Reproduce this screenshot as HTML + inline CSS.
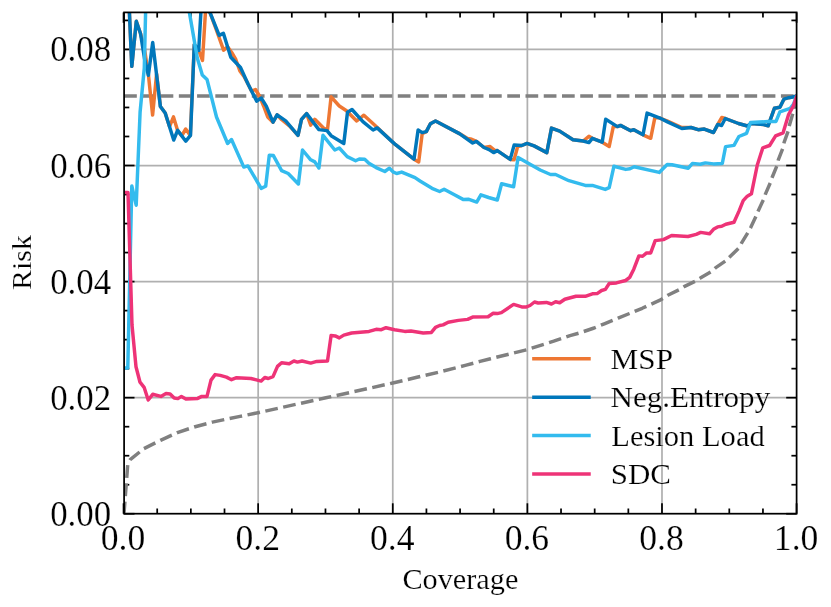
<!DOCTYPE html>
<html lang="en"><head><meta charset="utf-8"><title>Risk-Coverage</title>
<style>html,body{margin:0;padding:0;background:#fff}svg{display:block}text{font-family:"Liberation Serif","DejaVu Serif",serif;fill:#000;stroke:#fff;stroke-width:0.2px;paint-order:fill stroke}</style>
</head><body>
<svg width="831" height="607" viewBox="0 0 831 607">
<rect width="831" height="607" fill="#fff"/>
<defs><clipPath id="ax"><rect x="124.1" y="12.4" width="672.5" height="501.30000000000007"/></clipPath></defs>
<g stroke="#b0b0b0" stroke-width="1.74" fill="none">
<line x1="258.16" y1="12.4" x2="258.16" y2="513.7"/>
<line x1="392.77" y1="12.4" x2="392.77" y2="513.7"/>
<line x1="527.38" y1="12.4" x2="527.38" y2="513.7"/>
<line x1="661.99" y1="12.4" x2="661.99" y2="513.7"/>
<line x1="124.1" y1="397.67" x2="796.6" y2="397.67"/>
<line x1="124.1" y1="281.59" x2="796.6" y2="281.59"/>
<line x1="124.1" y1="165.51" x2="796.6" y2="165.51"/>
<line x1="124.1" y1="49.43" x2="796.6" y2="49.43"/>
</g>
<g stroke="#000" stroke-width="1.74" fill="none">
<line x1="123.55" y1="513.7" x2="123.55" y2="503.30"/>
<line x1="123.55" y1="12.4" x2="123.55" y2="22.80"/>
<line x1="157.20" y1="513.7" x2="157.20" y2="508.50"/>
<line x1="157.20" y1="12.4" x2="157.20" y2="17.60"/>
<line x1="190.85" y1="513.7" x2="190.85" y2="508.50"/>
<line x1="190.85" y1="12.4" x2="190.85" y2="17.60"/>
<line x1="224.51" y1="513.7" x2="224.51" y2="508.50"/>
<line x1="224.51" y1="12.4" x2="224.51" y2="17.60"/>
<line x1="258.16" y1="513.7" x2="258.16" y2="503.30"/>
<line x1="258.16" y1="12.4" x2="258.16" y2="22.80"/>
<line x1="291.81" y1="513.7" x2="291.81" y2="508.50"/>
<line x1="291.81" y1="12.4" x2="291.81" y2="17.60"/>
<line x1="325.47" y1="513.7" x2="325.47" y2="508.50"/>
<line x1="325.47" y1="12.4" x2="325.47" y2="17.60"/>
<line x1="359.12" y1="513.7" x2="359.12" y2="508.50"/>
<line x1="359.12" y1="12.4" x2="359.12" y2="17.60"/>
<line x1="392.77" y1="513.7" x2="392.77" y2="503.30"/>
<line x1="392.77" y1="12.4" x2="392.77" y2="22.80"/>
<line x1="426.42" y1="513.7" x2="426.42" y2="508.50"/>
<line x1="426.42" y1="12.4" x2="426.42" y2="17.60"/>
<line x1="460.07" y1="513.7" x2="460.07" y2="508.50"/>
<line x1="460.07" y1="12.4" x2="460.07" y2="17.60"/>
<line x1="493.73" y1="513.7" x2="493.73" y2="508.50"/>
<line x1="493.73" y1="12.4" x2="493.73" y2="17.60"/>
<line x1="527.38" y1="513.7" x2="527.38" y2="503.30"/>
<line x1="527.38" y1="12.4" x2="527.38" y2="22.80"/>
<line x1="561.03" y1="513.7" x2="561.03" y2="508.50"/>
<line x1="561.03" y1="12.4" x2="561.03" y2="17.60"/>
<line x1="594.68" y1="513.7" x2="594.68" y2="508.50"/>
<line x1="594.68" y1="12.4" x2="594.68" y2="17.60"/>
<line x1="628.34" y1="513.7" x2="628.34" y2="508.50"/>
<line x1="628.34" y1="12.4" x2="628.34" y2="17.60"/>
<line x1="661.99" y1="513.7" x2="661.99" y2="503.30"/>
<line x1="661.99" y1="12.4" x2="661.99" y2="22.80"/>
<line x1="695.64" y1="513.7" x2="695.64" y2="508.50"/>
<line x1="695.64" y1="12.4" x2="695.64" y2="17.60"/>
<line x1="729.29" y1="513.7" x2="729.29" y2="508.50"/>
<line x1="729.29" y1="12.4" x2="729.29" y2="17.60"/>
<line x1="762.95" y1="513.7" x2="762.95" y2="508.50"/>
<line x1="762.95" y1="12.4" x2="762.95" y2="17.60"/>
<line x1="796.60" y1="513.7" x2="796.60" y2="503.30"/>
<line x1="796.60" y1="12.4" x2="796.60" y2="22.80"/>
<line x1="124.1" y1="513.75" x2="134.50" y2="513.75"/>
<line x1="796.6" y1="513.75" x2="786.20" y2="513.75"/>
<line x1="124.1" y1="484.73" x2="129.30" y2="484.73"/>
<line x1="796.6" y1="484.73" x2="791.40" y2="484.73"/>
<line x1="124.1" y1="455.71" x2="129.30" y2="455.71"/>
<line x1="796.6" y1="455.71" x2="791.40" y2="455.71"/>
<line x1="124.1" y1="426.69" x2="129.30" y2="426.69"/>
<line x1="796.6" y1="426.69" x2="791.40" y2="426.69"/>
<line x1="124.1" y1="397.67" x2="134.50" y2="397.67"/>
<line x1="796.6" y1="397.67" x2="786.20" y2="397.67"/>
<line x1="124.1" y1="368.65" x2="129.30" y2="368.65"/>
<line x1="796.6" y1="368.65" x2="791.40" y2="368.65"/>
<line x1="124.1" y1="339.63" x2="129.30" y2="339.63"/>
<line x1="796.6" y1="339.63" x2="791.40" y2="339.63"/>
<line x1="124.1" y1="310.61" x2="129.30" y2="310.61"/>
<line x1="796.6" y1="310.61" x2="791.40" y2="310.61"/>
<line x1="124.1" y1="281.59" x2="134.50" y2="281.59"/>
<line x1="796.6" y1="281.59" x2="786.20" y2="281.59"/>
<line x1="124.1" y1="252.57" x2="129.30" y2="252.57"/>
<line x1="796.6" y1="252.57" x2="791.40" y2="252.57"/>
<line x1="124.1" y1="223.55" x2="129.30" y2="223.55"/>
<line x1="796.6" y1="223.55" x2="791.40" y2="223.55"/>
<line x1="124.1" y1="194.53" x2="129.30" y2="194.53"/>
<line x1="796.6" y1="194.53" x2="791.40" y2="194.53"/>
<line x1="124.1" y1="165.51" x2="134.50" y2="165.51"/>
<line x1="796.6" y1="165.51" x2="786.20" y2="165.51"/>
<line x1="124.1" y1="136.49" x2="129.30" y2="136.49"/>
<line x1="796.6" y1="136.49" x2="791.40" y2="136.49"/>
<line x1="124.1" y1="107.47" x2="129.30" y2="107.47"/>
<line x1="796.6" y1="107.47" x2="791.40" y2="107.47"/>
<line x1="124.1" y1="78.45" x2="129.30" y2="78.45"/>
<line x1="796.6" y1="78.45" x2="791.40" y2="78.45"/>
<line x1="124.1" y1="49.43" x2="134.50" y2="49.43"/>
<line x1="796.6" y1="49.43" x2="786.20" y2="49.43"/>
<line x1="124.1" y1="20.41" x2="129.30" y2="20.41"/>
<line x1="796.6" y1="20.41" x2="791.40" y2="20.41"/>
</g>
<g clip-path="url(#ax)" fill="none" stroke-width="3.47" stroke-linejoin="round">
<line x1="124.1" y1="95.9" x2="796.6" y2="95.9" stroke="#808080" stroke-dasharray="12.73 5.515"/>
<polyline points="124.0,513.5 127.8,463.9 130.2,459.7 143.7,448.7 160.5,440.3 177.4,432.6 194.2,427.0 212.4,422.1 227.9,418.9 240.0,416.4 258.1,412.7 283.4,407.1 301.2,403.2 325.9,397.8 360.0,390.3 392.8,383.0 416.9,377.3 438.1,372.3 465.3,365.4 480.0,361.4 490.5,358.7 527.3,349.6 553.7,341.2 570.0,335.6 580.0,332.8 594.1,328.0 604.3,323.8 618.1,318.1 629.5,313.5 642.2,308.3 647.2,305.9 660.0,300.2 667.8,295.3 679.3,289.6 684.1,286.6 695.5,281.1 700.3,278.1 711.5,271.5 715.4,267.9 725.9,260.7 729.6,257.1 738.8,248.1 741.8,242.6 748.4,231.8 750.7,227.6 756.1,216.1 758.3,210.7 763.6,199.3 765.5,193.9 770.5,182.4 772.3,177.0 777.2,165.0 778.3,159.9 782.9,148.0 784.2,142.1 788.5,130.2 789.5,125.0 792.8,113.7 796.5,96.0" stroke="#808080" stroke-dasharray="12.73 5.515" stroke-dashoffset="0.7"/>
<polyline points="124.0,-80.0 128.1,-17.0 131.8,66.3 136.3,21.3 140.5,33.5 144.5,49.0 148.5,75.5 152.6,115.1 156.6,74.0 160.4,106.5 165.2,113.0 169.5,126.6 173.5,116.9 177.6,130.4 181.7,135.8 185.7,129.0 190.3,135.4 194.3,44.5 198.7,50.5 202.5,60.4 205.7,8.0 207.0,-10.0 210.1,12.8 216.0,29.0 223.6,50.1 227.6,46.8 231.7,52.5 235.8,59.5 239.9,71.0 244.0,76.5 247.9,83.7 251.5,91.0 255.5,89.5 259.5,96.0 263.6,106.0 267.7,117.0 273.0,122.2 277.1,114.8 281.5,119.5 289.7,126.2 298.0,135.3 301.5,119.3 306.6,113.6 310.7,125.1 314.8,119.3 324.0,128.5 327.5,129.6 331.1,96.8 339.3,106.0 346.5,110.7 356.7,121.0 363.9,115.2 376.2,126.5 394.6,143.9 414.0,159.2 418.7,161.9 422.2,133.6 426.3,131.6 430.4,123.8 435.5,121.0 459.4,133.6 467.6,138.5 471.7,139.3 476.4,141.4 484.0,147.5 490.1,146.5 495.0,150.5 497.3,150.6 510.2,159.4 514.1,159.8 517.7,146.5 521.8,145.5 527.0,143.4 534.1,145.9 546.8,152.6 551.5,128.1 559.7,131.1 573.0,139.7 583.2,141.0 588.9,136.3 592.4,138.3 602.2,142.2 609.2,146.5 613.3,126.6 617.4,126.6 620.5,125.4 630.7,130.7 633.8,129.7 643.0,134.8 650.7,138.3 654.8,117.8 659.3,117.8 667.5,121.1 681.8,127.6 691.0,127.5 698.2,129.7 704.3,129.1 713.5,132.5 717.8,124.4 721.7,117.5 725.3,118.5 738.5,123.5 747.4,126.0 751.4,123.4 763.7,124.6 768.1,125.8 774.4,108.3 779.9,107.2 783.9,99.2 788.6,97.7 794.9,96.5 796.5,96.0" stroke="#EE7733" stroke-linecap="square"/>
<polyline points="124.0,-80.0 128.1,-17.0 131.8,66.3 136.3,21.3 140.5,33.5 144.5,58.5 148.4,75.3 152.7,42.5 160.4,106.5 165.2,113.0 173.7,140.0 177.6,130.4 185.8,141.2 190.5,135.4 194.3,44.5 198.7,50.5 201.3,5.0 203.5,-20.0 208.5,8.8 219.2,35.4 223.4,33.2 230.8,57.2 240.5,67.5 247.9,83.7 256.7,101.1 261.2,98.0 266.3,106.2 273.0,122.2 277.1,114.8 285.7,120.8 298.0,135.3 301.5,119.3 306.6,113.6 318.9,129.6 327.0,130.6 331.1,135.7 343.8,143.5 347.5,112.2 352.0,109.5 362.9,121.6 373.1,130.0 377.2,127.9 394.6,143.9 414.0,159.2 418.1,130.0 422.2,132.6 426.3,131.6 430.4,123.8 435.5,121.0 459.4,133.6 472.7,143.0 476.4,141.4 484.0,147.5 489.1,149.6 493.6,152.6 497.3,150.6 510.2,159.4 514.1,145.1 521.8,145.5 527.0,143.4 534.1,145.9 546.8,152.6 551.5,128.1 559.7,131.1 573.0,139.7 583.2,141.0 588.9,142.6 592.4,138.3 602.2,142.2 605.7,119.3 617.4,126.6 620.5,125.4 630.7,130.7 633.8,129.7 643.0,134.8 647.1,113.1 659.3,117.8 667.5,121.9 681.8,128.5 691.0,127.5 698.2,129.7 704.3,129.1 713.5,132.5 717.8,124.4 721.6,125.5 725.3,118.5 738.5,123.5 747.4,126.0 751.4,123.4 763.7,124.6 768.1,125.8 774.4,108.3 779.9,107.2 783.9,99.2 788.6,97.7 794.9,96.5 796.5,96.0" stroke="#0077BB" stroke-linecap="square"/>
<polyline points="124.0,368.0 127.8,368.0 131.8,186.0 136.2,205.2 140.1,112.0 144.3,68.0 145.6,12.0 147.0,-48.0 160.0,-300.0 180.0,-300.0 185.7,-8.8 189.5,13.1 197.3,58.0 202.3,74.9 207.0,79.4 216.5,117.0 227.6,143.5 231.5,139.5 243.8,167.1 247.9,165.9 261.2,188.4 265.7,186.3 269.3,155.2 273.4,155.6 281.6,170.6 288.2,173.5 298.4,184.0 302.5,150.0 310.7,159.8 314.8,161.9 318.9,168.0 323.0,135.3 334.8,150.0 339.3,148.0 347.2,156.6 355.6,160.8 359.3,159.0 364.7,159.2 368.9,163.2 376.1,167.6 384.8,171.5 389.4,168.2 393.5,172.2 396.6,173.5 401.7,172.1 415.0,177.6 420.0,181.0 432.0,188.3 439.6,191.5 444.1,189.3 454.9,195.0 463.5,199.6 468.3,199.2 476.7,202.1 480.9,194.8 488.6,197.5 497.3,200.0 501.6,183.8 513.6,186.8 518.1,157.5 540.2,170.0 550.5,174.5 555.6,174.5 568.9,180.7 585.3,185.4 592.4,185.4 605.2,189.4 609.2,187.6 613.9,166.3 625.7,169.4 630.0,168.8 634.2,166.8 659.2,172.4 667.2,164.5 672.0,164.7 688.3,168.2 692.5,163.4 700.2,164.3 705.4,162.9 713.5,163.9 722.3,163.5 725.6,146.6 734.0,145.4 738.9,136.5 746.5,133.3 750.5,122.5 768.0,121.6 776.0,121.4 779.9,111.9 790.2,108.3 793.4,104.3 796.5,96.3" stroke="#33BBEE" stroke-linecap="square"/>
<polyline points="124.0,192.5 128.0,192.5 132.0,325.0 136.0,366.8 140.0,382.2 144.1,387.3 148.2,400.0 152.7,394.3 160.9,396.4 166.0,393.5 170.1,393.9 174.2,398.0 177.9,398.6 181.4,396.4 185.9,399.0 197.7,398.4 201.8,396.4 207.0,396.4 211.0,380.1 215.1,374.6 220.2,375.4 226.4,377.1 231.5,379.7 236.6,377.7 250.9,378.5 261.2,381.1 264.8,377.5 268.3,378.5 273.0,376.6 277.5,366.4 281.6,362.7 289.2,363.7 293.9,361.0 297.4,362.1 302.1,361.0 310.7,363.1 316.8,361.4 327.5,361.0 331.1,335.5 335.2,335.9 339.3,337.9 343.8,335.1 351.6,333.0 369.0,331.4 376.2,329.3 381.3,329.7 386.0,327.7 394.6,329.7 404.8,331.4 410.9,331.0 423.2,333.0 431.4,332.4 435.5,327.3 439.6,325.5 443.1,324.9 448.2,322.2 458.4,320.4 467.6,319.4 472.7,317.1 488.1,316.7 493.2,313.2 497.3,313.6 501.4,312.6 513.6,304.4 521.8,306.9 525.9,307.1 530.0,305.5 534.5,302.0 538.2,303.0 546.4,302.4 551.5,304.0 555.6,301.8 559.7,302.8 564.8,299.3 576.0,296.3 585.3,296.3 592.4,293.8 597.1,293.6 601.6,290.5 605.4,289.4 609.2,283.5 616.4,282.9 625.6,280.5 629.7,277.4 633.8,269.2 638.9,255.9 642.6,256.3 646.6,252.9 650.7,252.9 655.2,240.6 663.4,239.6 671.6,235.5 688.0,236.5 696.2,234.4 700.7,232.4 709.5,233.8 713.5,229.3 717.6,226.9 721.7,226.3 725.8,224.2 734.0,222.2 739.1,210.9 743.2,200.7 747.3,196.2 751.4,193.8 757.3,165.0 762.8,147.9 769.6,145.5 775.6,135.9 783.1,132.8 788.6,114.6 793.4,105.9 796.5,97.0" stroke="#EE3377" stroke-linecap="square"/>
</g>
<g stroke="#000" stroke-width="1.74" fill="none">
<rect x="124.1" y="12.4" width="672.5" height="501.30000000000007" stroke-linejoin="miter"/>
</g>
<g font-size="35px">
<text x="123.0" y="549.9" text-anchor="middle" textLength="44.5" lengthAdjust="spacingAndGlyphs">0.0</text>
<text x="257.7" y="549.9" text-anchor="middle" textLength="44.5" lengthAdjust="spacingAndGlyphs">0.2</text>
<text x="392.3" y="549.9" text-anchor="middle" textLength="44.5" lengthAdjust="spacingAndGlyphs">0.4</text>
<text x="526.9" y="549.9" text-anchor="middle" textLength="44.5" lengthAdjust="spacingAndGlyphs">0.6</text>
<text x="661.5" y="549.9" text-anchor="middle" textLength="44.5" lengthAdjust="spacingAndGlyphs">0.8</text>
<text x="796.1" y="549.9" text-anchor="middle" textLength="44.5" lengthAdjust="spacingAndGlyphs">1.0</text>
<text x="111.2" y="525.8" text-anchor="end" textLength="61" lengthAdjust="spacingAndGlyphs">0.00</text>
<text x="111.2" y="409.7" text-anchor="end" textLength="61" lengthAdjust="spacingAndGlyphs">0.02</text>
<text x="111.2" y="293.6" text-anchor="end" textLength="61" lengthAdjust="spacingAndGlyphs">0.04</text>
<text x="111.2" y="177.5" text-anchor="end" textLength="61" lengthAdjust="spacingAndGlyphs">0.06</text>
<text x="111.2" y="61.4" text-anchor="end" textLength="61" lengthAdjust="spacingAndGlyphs">0.08</text>
</g>
<g font-size="28.5px">
<text x="460.4" y="589.3" text-anchor="middle" textLength="116" lengthAdjust="spacingAndGlyphs">Coverage</text>
<text transform="translate(31.4,262.5) rotate(-90)" font-size="28px" text-anchor="middle" textLength="55" lengthAdjust="spacingAndGlyphs">Risk</text>
<line x1="533.9" y1="358.7" x2="589.0" y2="358.7" stroke="#EE7733" stroke-width="3.47" stroke-linecap="square"/>
<text x="610.6" y="369.0" textLength="62.4" lengthAdjust="spacingAndGlyphs">MSP</text>
<line x1="533.9" y1="397.2" x2="589.0" y2="397.2" stroke="#0077BB" stroke-width="3.47" stroke-linecap="square"/>
<text x="610.6" y="406.8" textLength="159.6" lengthAdjust="spacingAndGlyphs">Neg.Entropy</text>
<line x1="533.9" y1="435.5" x2="589.0" y2="435.5" stroke="#33BBEE" stroke-width="3.47" stroke-linecap="square"/>
<text x="611.3" y="445.9" textLength="153.4" lengthAdjust="spacingAndGlyphs">Lesion Load</text>
<line x1="533.9" y1="473.9" x2="589.0" y2="473.9" stroke="#EE3377" stroke-width="3.47" stroke-linecap="square"/>
<text x="610.8" y="484.0" textLength="60.2" lengthAdjust="spacingAndGlyphs">SDC</text>
</g>
</svg>
</body></html>
